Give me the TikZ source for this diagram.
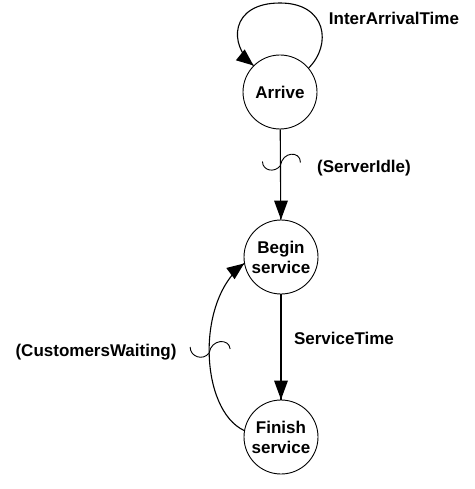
\documentclass[tikz,border=0pt]{standalone}
\usepackage{fontspec}
\setmainfont{Liberation Sans}

\begin{document}
\begin{tikzpicture}[x=1pt,y=1pt,
  event/.style={circle,draw,line width=0.9pt,minimum size=74pt,inner sep=0pt,align=center,font=\fontsize{17}{20}\selectfont\bfseries},
  lbl/.style={font=\fontsize{17}{20}\selectfont\bfseries},
  evarrow/.style={line width=1.1pt},
  cond/.style={line width=0.9pt}]
 \useasboundingbox (0,0) rectangle (474,-489); %枠
 \node[event] (A) at (280,-92) {Arrive}; %到着
 \node[event] (B) at (281,-257) {Begin\\service}; %サービス開始
 \node[event] (F) at (281,-437) {Finish\\service}; %サービス終了

 \node[lbl] (iat) at (394,-18) {InterArrivalTime};
 \node[lbl] (idle) at (364,-168) {(ServerIdle)};
 \node[lbl] (st) at (344,-338) {ServiceTime};
 \node[lbl] (cw) at (96,-352) {(CustomersWaiting)};

 \draw[evarrow] (A.40) .. controls (332,-45) and (327,-3) .. (280,-3)
   .. controls (230,-3) and (228,-45) .. (A.135); %自己ループ
 \draw[evarrow] (A) -- (B) coordinate[pos=0.4] (c1); %A->B
 \draw[evarrow] (B) -- (F); %B->F
 \draw[evarrow] (F.170) .. controls (200,-410) and (195,-300) .. (B.190)
   coordinate[pos=0.5] (c2); %F->B

 % 矢じり
 \fill[shift={(A.135)},rotate=-38.9] (0,0) -- (-17,7) -- (-17,-7) -- cycle;
 \fill[shift={(B.north)},rotate=-90] (0,0) -- (-19,7) -- (-19,-7) -- cycle;
 \fill[shift={(F.north)},rotate=-90] (0,0) -- (-19,7) -- (-19,-7) -- cycle;
 \fill[shift={(B.190)},rotate=36.4] (0,0) -- (-17,7) -- (-17,-7) -- cycle;

 \draw[cond,shift={(c1)}] (-18,4) .. controls (-18,-5) and (-6,-8) .. (0,0)
   .. controls (2,14) and (20,15) .. (20,3); %条件
 \draw[cond,shift={(c2)}] (-19,6) .. controls (-19,-4) and (-6,-8) .. (0,0)
   .. controls (2,14) and (20,15) .. (21,4); %条件
\end{tikzpicture}
\end{document}
